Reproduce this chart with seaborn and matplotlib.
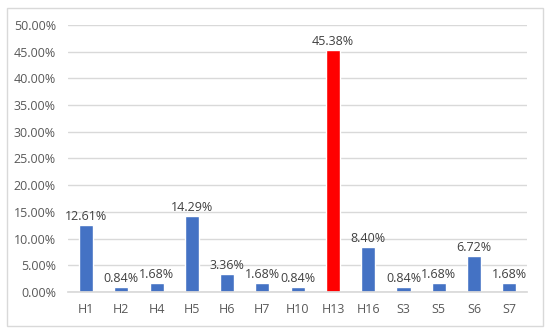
import matplotlib
matplotlib.use("Agg")
import matplotlib.pyplot as plt
from matplotlib.patches import Rectangle
from matplotlib.ticker import FuncFormatter
import pandas as pd
import seaborn as sns

categories = ["H1", "H2", "H4", "H5", "H6", "H7", "H10", "H13", "H16", "S3", "S5", "S6", "S7"]
values = [12.61, 0.84, 1.68, 14.29, 3.36, 1.68, 0.84, 45.38, 8.40, 0.84, 1.68, 6.72, 1.68]
highlight = "H13"

df = pd.DataFrame({"cat": categories, "val": [v / 100 for v in values]})
palette = {c: ("#FF0000" if c == highlight else "#4472C4") for c in categories}

sns.set_theme(style="white")
plt.rcParams["font.family"] = ["Open Sans", "DejaVu Sans"]

fig = plt.figure(figsize=(5.5, 3.36), dpi=100)
ax = fig.add_axes([0.1245, 0.131, 0.8335, 0.7946])

sns.barplot(data=df, x="cat", y="val", hue="cat", palette=palette, width=0.4,
            legend=False, ax=ax, saturation=1)

ax.set_ylim(0, 0.5)
ax.set_yticks([i * 0.05 for i in range(11)])
ax.yaxis.set_major_formatter(FuncFormatter(lambda v, _: f"{v * 100:.2f}%"))
ax.grid(axis="y", color="#D9D9D9", linewidth=1)
ax.set_axisbelow(True)
for s in ["top", "right", "left"]:
    ax.spines[s].set_visible(False)
ax.spines["bottom"].set_color("#D9D9D9")
ax.set_xlabel("")
ax.set_ylabel("")
ax.tick_params(axis="both", length=0, labelsize=9, colors="#595959", pad=8)
ax.tick_params(axis="y", pad=9)

for i, v in enumerate(values):
    ax.text(i, v / 100 + 0.004, f"{v:.2f}%", ha="center", va="bottom",
            fontsize=9, color="#404040")

fig.patches.append(Rectangle((7 / 550, 10 / 336), 536 / 550, 318 / 336,
                             transform=fig.transFigure, fill=False,
                             edgecolor="#D9D9D9", linewidth=1))

fig.savefig("out.png", dpi=100)
